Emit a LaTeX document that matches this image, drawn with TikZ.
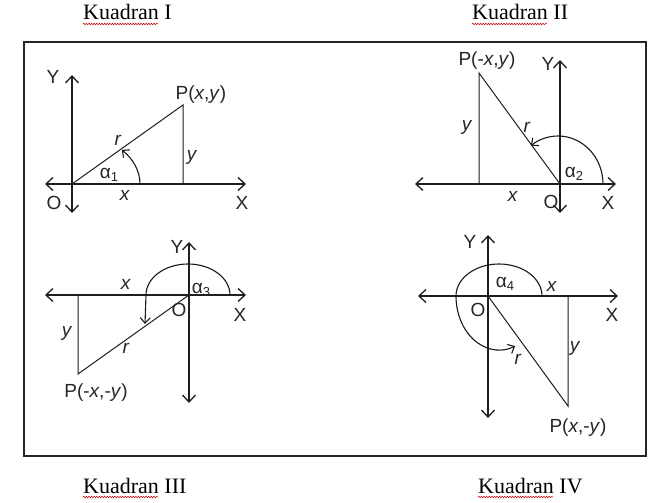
\documentclass[tikz,border=0pt]{standalone}
\usepackage{fontspec}
\setmainfont{Liberation Sans}
\newfontfamily\timesfam{Liberation Serif}
\usetikzlibrary{arrows.meta,decorations.pathmorphing}
\newcommand\subsc[1]{\raisebox{-0.35ex}{\fontsize{13}{13}\selectfont #1}}
\begin{document}
\begin{tikzpicture}[x=1pt,y=-1pt,
  axisline/.style={line width=1.3pt, draw=black!88,
    {Straight Barb[length=7pt,width=13pt]}-{Straight Barb[length=7pt,width=13pt]}},
  triline/.style={line width=1pt, draw=black!88},
  anglearc/.style={line width=1.1pt, draw=black!90, -{Straight Barb[length=5.5pt,width=10pt]}},
  lbl/.style={inner sep=0pt, text=black!85, font=\fontsize{19}{22}\selectfont},
  title/.style={inner sep=0pt, anchor=base west, text=black, font=\timesfam\fontsize{22}{25}\selectfont},
  squiggle/.style={draw=red!80!black, line width=0.5pt, decorate,
    decoration={snake, amplitude=0.8pt, segment length=2.6pt}}
]
\useasboundingbox (0,0) rectangle (670,503);
\fill[white] (0,0) rectangle (670,503);

% frame
\draw[line width=1.6pt, draw=black!85] (24,42) rectangle (646,456);

% titles
\node[title] (t1) at (83,20) {Kuadran I};
\node[title] (t2) at (472,20) {Kuadran II};
\node[title] (t3) at (83,493) {Kuadran III};
\node[title] (t4) at (478,493) {Kuadran IV};
\coordinate (s1a) at (83,24);  \coordinate (s1b) at (158,24);
\coordinate (s2a) at (472,24); \coordinate (s2b) at (547,24);
\coordinate (s3a) at (83,497); \coordinate (s3b) at (158,497);
\coordinate (s4a) at (478,497);\coordinate (s4b) at (553,497);
\draw[squiggle] (s1a) -- (s1b);
\draw[squiggle] (s2a) -- (s2b);
\draw[squiggle] (s3a) -- (s3b);
\draw[squiggle] (s4a) -- (s4b);

% ---------------- Kuadran I ----------------
\coordinate (O1) at (72,184);
\coordinate (X1l) at (45,184); \coordinate (X1r) at (246,184);
\coordinate (Y1t) at (72,75);  \coordinate (Y1b) at (72,213);
\coordinate (P1) at (183,105); \coordinate (F1) at (183,184);
\coordinate (A1) at (140,184);
\draw[axisline] (X1l) -- (X1r);
\draw[axisline] (Y1b) -- (Y1t);
\draw[triline] (O1) -- (P1) -- (F1);
\draw[anglearc] (A1) arc[start angle=0, end angle=-43, x radius=68, y radius=50];
\node[lbl] (Y1) at (53,77) {Y};
\node[lbl] (P1l) at (201,95) {P(\textit{x},\textit{y})};
\node[lbl] (r1) at (118,140) {\textit{r}};
\node[lbl] (y1) at (192,157) {\textit{y}};
\node[lbl] (a1) at (109,175) {α\subsc{1}};
\node[lbl] (O1l) at (54,203) {O};
\node[lbl] (x1) at (125,195) {\textit{x}};
\node[lbl] (X1) at (242,203) {X};

% ---------------- Kuadran II ----------------
\coordinate (O2) at (560,184);
\coordinate (X2l) at (415,184); \coordinate (X2r) at (616,184);
\coordinate (Y2t) at (560,60);  \coordinate (Y2b) at (560,213);
\coordinate (P2) at (479,73);   \coordinate (F2) at (479,184);
\coordinate (A2) at (603,184);
\draw[axisline] (X2l) -- (X2r);
\draw[axisline] (Y2b) -- (Y2t);
\draw[triline] (O2) -- (P2) -- (F2);
\draw[anglearc] (A2) arc[start angle=0, end angle=-127, x radius=45, y radius=48];
\node[lbl] (P2l) at (487,61) {P(-\textit{x},\textit{y})};
\node[lbl] (Y2) at (548,64) {Y};
\node[lbl] (y2) at (467,127) {\textit{y}};
\node[lbl] (r2) at (527,127) {\textit{r}};
\node[lbl] (a2) at (574,174) {α\subsc{2}};
\node[lbl] (x2) at (513,196) {\textit{x}};
\node[lbl] (O2l) at (551,202) {O};
\node[lbl] (X2) at (608,203) {X};

% ---------------- Kuadran III ----------------
\coordinate (O3) at (189,295);
\coordinate (X3l) at (45,295); \coordinate (X3r) at (246,295);
\coordinate (Y3t) at (189,242); \coordinate (Y3b) at (189,403);
\coordinate (P3) at (78,374);  \coordinate (F3) at (78,295);
\coordinate (A3) at (230,295);
\draw[axisline] (X3l) -- (X3r);
\draw[axisline] (Y3b) -- (Y3t);
\draw[triline] (O3) -- (P3) -- (F3);
\draw[anglearc] (A3) arc[start angle=0, end angle=-180, x radius=42, y radius=31] -- ++(-1,29);
\node[lbl] (Y3) at (177,247) {Y};
\node[lbl] (x3) at (126,284) {\textit{x}};
\node[lbl] (a3) at (201,290) {α\subsc{3}};
\node[lbl] (O3l) at (179,310) {O};
\node[lbl] (X3) at (240,315) {X};
\node[lbl] (y3) at (67,333) {\textit{y}};
\node[lbl] (r3) at (126,348) {\textit{r}};
\node[lbl] (P3l) at (96,393) {P(-\textit{x},-\textit{y})};

% ---------------- Kuadran IV ----------------
\coordinate (O4) at (488,296);
\coordinate (X4l) at (418,296); \coordinate (X4r) at (618,296);
\coordinate (Y4t) at (488,235); \coordinate (Y4b) at (488,418);
\coordinate (P4) at (568,406);  \coordinate (F4) at (568,296);
\coordinate (A4) at (542,296);
\draw[axisline] (X4l) -- (X4r);
\draw[axisline] (Y4b) -- (Y4t);
\draw[triline] (O4) -- (P4) -- (F4);
\draw[anglearc] (A4) arc[start angle=0, end angle=-180, x radius=43, y radius=32]
  arc[start angle=180, end angle=68, x radius=43, y radius=54];
\node[lbl] (Y4) at (470,242) {Y};
\node[lbl] (a4) at (505,284) {α\subsc{4}};
\node[lbl] (x4) at (552,286) {\textit{x}};
\node[lbl] (O4l) at (478,310) {O};
\node[lbl] (X4) at (612,315) {X};
\node[lbl] (y4) at (575,348) {\textit{y}};
\node[lbl] (r4) at (518,359) {\textit{r}};
\node[lbl] (P4l) at (578,428) {P(\textit{x},-\textit{y})};
\end{tikzpicture}
\end{document}
